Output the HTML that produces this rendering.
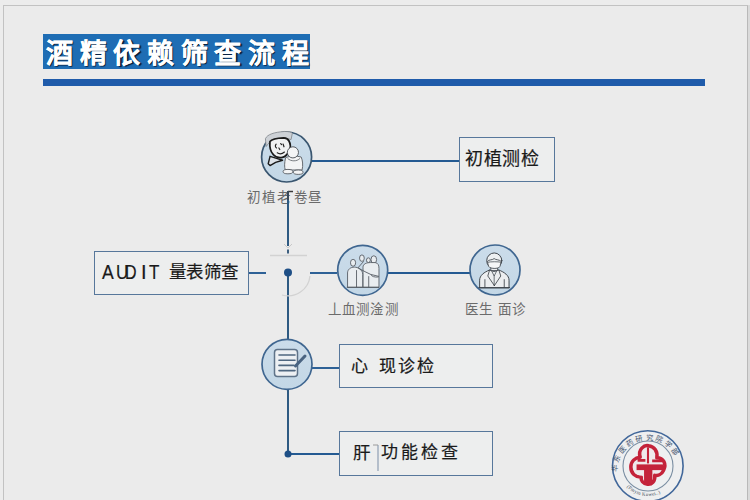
<!DOCTYPE html>
<html lang="zh-CN">
<head>
<meta charset="utf-8">
<style>
html,body{margin:0;padding:0;}
body{width:750px;height:500px;overflow:hidden;background:#ececec;position:relative;font-family:"Liberation Sans",sans-serif;}
.abs{position:absolute;}
#frame{left:3px;top:5px;width:743px;height:495px;border-left:1px solid #c2c2c2;border-top:1px solid #c2c2c2;border-right:2px solid #b9b9b9;background:#ebebeb;}
#edge{left:748px;top:5px;width:2px;height:495px;background:#dadada;}
#tbox{left:43px;top:34px;width:267px;height:35px;background:#1e6db4;}
#ttext{left:46px;top:34px;font-size:27px;line-height:40px;font-weight:bold;color:#fff;-webkit-text-stroke:0.2px #fff;letter-spacing:6.7px;white-space:nowrap;text-shadow:1.2px 1.2px 0.8px rgba(5,20,45,.9);}
#tbar{left:43px;top:78.5px;width:661.5px;height:7.6px;background:#1f5baa;}
.box{position:absolute;border:1.7px solid #57779b;background:#edeeee;box-sizing:border-box;}
.bt{position:absolute;color:#1a1a1a;white-space:nowrap;line-height:20px;font-weight:500;-webkit-text-stroke:0.2px #1a1a1a;}
.ch{position:absolute;white-space:nowrap;line-height:20px;}
.lbl{position:absolute;color:#6b6b6b;white-space:nowrap;font-size:13.5px;line-height:16px;}
svg{position:absolute;left:0;top:0;}
</style>
</head>
<body>
<div id="frame" class="abs"></div>
<div id="edge" class="abs"></div>
<div id="tbox" class="abs"></div>
<div id="ttext" class="abs">酒精依赖筛查流程</div>
<div id="tbar" class="abs"></div>

<!-- boxes -->
<div class="box" style="left:459px;top:137px;width:96px;height:45px;"></div>
<div class="bt" style="left:465px;top:149px;font-size:18px;letter-spacing:0.6px;">初植测检</div>

<div class="box" style="left:94px;top:250.5px;width:155px;height:44.5px;"></div>
<div class="bt" style="left:0;top:262px;font-size:20px;color:#1a1a1a;">
  <span class="ch" style="left:102px;transform:scaleX(0.88);transform-origin:0 0;">A</span>
  <span class="ch" style="left:115.5px;transform:scaleX(0.85);transform-origin:0 0;">U</span>
  <span class="ch" style="left:125px;transform:scaleX(0.8);transform-origin:0 0;">D</span>
  <span class="ch" style="left:141px;">I</span>
  <span class="ch" style="left:149px;transform:scaleX(0.85);transform-origin:0 0;">T</span>
</div>
<div class="bt" style="left:168.5px;top:262px;font-size:17.5px;letter-spacing:0.6px;">量表筛查</div>

<div class="box" style="left:339px;top:344px;width:154px;height:44px;"></div>
<div class="bt" style="left:351px;top:357px;font-size:17px;">心</div>
<div class="bt" style="left:378.5px;top:357px;font-size:17px;letter-spacing:2px;">现诊检</div>

<div class="box" style="left:339px;top:431px;width:154px;height:45px;"></div>
<div class="bt" style="left:352.5px;top:443px;font-size:17.5px;">肝</div>
<div class="bt" style="left:380.5px;top:443px;font-size:17px;letter-spacing:3px;">功能检查</div>

<!-- labels -->
<div class="lbl" style="left:246.8px;top:190px;letter-spacing:2.2px;">初植老</div>
<div class="lbl" style="left:294.3px;top:190px;letter-spacing:1px;">卷昼</div>
<div class="lbl" style="left:327.8px;top:302px;letter-spacing:1.2px;">丄血测淦测</div>
<div class="lbl" style="left:465px;top:301.5px;letter-spacing:1.1px;">医生 面诊</div>

<svg width="750" height="500" viewBox="0 0 750 500">
  <g stroke="#2e5a82" stroke-width="2" fill="none">
    <line x1="288" y1="192" x2="288" y2="246"/>
    <line x1="288" y1="249.5" x2="288" y2="253.5" stroke="#3d5f80"/>
    <line x1="288" y1="273" x2="288" y2="339"/>
    <line x1="288" y1="389" x2="288" y2="454"/>
  </g>
  <g stroke="#245a92" stroke-width="1.9" fill="none">
    <line x1="312" y1="161" x2="459" y2="161"/>
    <line x1="288" y1="454" x2="339" y2="454"/>
    <line x1="249" y1="273" x2="266" y2="273"/>
    <line x1="310" y1="273" x2="337" y2="273"/>
    <line x1="388" y1="273" x2="470" y2="273"/>
    <line x1="312" y1="368" x2="339" y2="368"/>
  </g>
  <path d="M288 191.5 H293" stroke="#3a3a3a" stroke-width="1.5"/>
  <path d="M288 191 V200" stroke="#3a4a5a" stroke-width="2"/>
  <circle cx="288" cy="272.5" r="4" fill="#1e4f86"/>
  <circle cx="288" cy="454" r="3.5" fill="#1e4f86"/>
  <line x1="270" y1="255.5" x2="307" y2="255.5" stroke="#d2d2d2" stroke-width="1.3"/>
  <path d="M284 244 L288 248 L292 244" fill="none" stroke="#c8c8c8" stroke-width="1"/>
  <path d="M310 276 A22 22 0 0 1 282 295" stroke="#d2d2d2" stroke-width="1.3" fill="none"/>
  <!-- cursor in 肝 box -->
  <line x1="378" y1="445" x2="378" y2="471" stroke="#7d8fa8" stroke-width="1"/>
  <line x1="373" y1="445" x2="378" y2="445" stroke="#9a9a9a" stroke-width="1"/>

  <defs><linearGradient id="cg" x1="0" y1="0" x2="0" y2="1"><stop offset="0" stop-color="#cbdcea"/><stop offset="1" stop-color="#c3d7e6"/></linearGradient></defs>
  <g fill="url(#cg)" stroke="#3f6690" stroke-width="1.7">
    <circle cx="286.6" cy="157" r="25" stroke="#3a5670"/>
    <circle cx="362.7" cy="270.3" r="25"/>
    <circle cx="495" cy="270" r="25"/>
    <circle cx="287" cy="364.3" r="25"/>
  </g>

  <!-- icon 1: elder + child (local coords: zoom 500 => 58px) -->
  <g transform="translate(258,128) scale(0.116)">
    <path d="M64 92 C80 55 140 36 228 30 C262 29 290 36 296 46 L285 100 C240 80 160 84 104 117 L70 160 Z" fill="#cdd1d6" stroke="#7f848a" stroke-width="7"/>
    <path d="M103 117 C120 95 170 88 221 86 C245 88 258 95 266 110 C280 135 284 160 272 190 C257 225 236 248 210 253 C185 258 150 250 131 228 C110 205 98 170 103 117 Z" fill="#f0f1f2" stroke="#1a1a1a" stroke-width="15"/>
    <path d="M156 140 C146 150 148 166 160 172 M196 134 L203 143 M216 138 L224 162 M180 172 L188 186 M166 214 Q196 234 228 207" fill="none" stroke="#222" stroke-width="10" stroke-linecap="round"/>
    <path d="M104 244 L88 308 L104 324 L152 297 L212 278 L160 262 Z" fill="#dde2e8" stroke="#1a1a1a" stroke-width="12" stroke-linejoin="round"/>
    <path d="M238 255 C228 300 226 340 236 362 L380 362 C390 320 385 280 372 250 C340 240 270 240 238 255 Z" fill="#f3f4f5" stroke="#5c6066" stroke-width="8"/>
    <path d="M255 262 C285 290 335 290 362 262" fill="none" stroke="#5c6066" stroke-width="7"/>
    <ellipse cx="258" cy="376" rx="42" ry="19" fill="#f3f4f5" stroke="#5c6066" stroke-width="8"/>
    <ellipse cx="347" cy="381" rx="42" ry="19" fill="#f3f4f5" stroke="#5c6066" stroke-width="8"/>
    <circle cx="301" cy="210" r="48" fill="#f4f5f6" stroke="#4d5157" stroke-width="8"/>
  </g>

  <!-- icon 2: group of people (zoom 500 => 54px) -->
  <g transform="translate(336,244) scale(0.108)" fill="#e9edf0" stroke="#525860" stroke-width="8" stroke-linejoin="round">
    <ellipse cx="300" cy="150" rx="18" ry="22"/>
    <ellipse cx="350" cy="144" rx="26" ry="35"/>
    <path d="M250 400 V215 C250 185 280 172 320 172 L362 172 C388 175 398 195 398 225 V400 Z"/>
    <ellipse cx="240" cy="131" rx="22" ry="30"/>
    <ellipse cx="158" cy="174" rx="24" ry="32"/>
    <path d="M107 400 V268 C107 236 135 214 170 214 C205 214 247 240 247 280 V400 Z"/>
    <path d="M190 242 V400 M303 298 V400" fill="none"/>
    <path d="M203 221 L257 160 M205 222 L268 256 L322 282 L398 300" fill="none"/>
    <path d="M322 282 C330 300 355 310 395 305" fill="none"/>
    <path d="M100 402 H400" fill="none"/>
  </g>

  <!-- icon 3: doctor (zoom 500 => 60px) -->
  <g transform="translate(465,240) scale(0.12)" stroke="#3b4148" stroke-width="8" stroke-linejoin="round" stroke-linecap="round">
    <path d="M122 396 V335 C122 295 160 268 205 250 L243 262 L282 250 C327 268 367 295 367 335 V396 Z" fill="#eceef0"/>
    <path d="M205 250 L190 300 L245 380 M282 250 L298 300 L245 380" fill="none" stroke-width="7"/>
    <path d="M222 258 L243 300 L264 258 M243 300 V380" fill="none" stroke-width="6"/>
    <path d="M166 330 V396 M327 330 V396" fill="none" stroke-width="7"/>
    <path d="M115 397 H372" fill="none"/>
    <path d="M215 225 V255 H272 V225" fill="#eceef0" stroke-width="7"/>
    <ellipse cx="244" cy="172" rx="63" ry="64" fill="#edf0f2"/>
    <path d="M186 178 C200 160 225 170 243 155 C258 168 280 160 302 178" fill="none" stroke-width="7"/>
    <path d="M192 185 C215 180 275 180 298 185 L292 222 C270 242 220 242 198 222 Z" fill="#f5f6f7" stroke-width="6"/>
  </g>

  <!-- icon 4: document + pen -->
  <g stroke="#4a6482" fill="none" stroke-linecap="round">
    <rect x="274.5" y="349.5" width="23" height="27" rx="3" fill="#edf0f3" stroke="#5f7389" stroke-width="1.5"/>
    <path d="M279 355 H295 M279 360.2 H295 M279 365.4 H294 M279 370.6 H295" stroke="#4f6780" stroke-width="1.6"/>
    <path d="M295.5 366 L305 356" stroke-width="3"/>
  </g>
  <!-- logo -->
  <g>
    <circle cx="647.8" cy="466" r="35.3" fill="#eeeff0" stroke="#41679a" stroke-width="1.6"/>
    <circle cx="648" cy="466" r="25" fill="#eef0f1" stroke="#7a8ea2" stroke-width="1.1"/>
    <defs>
      <path id="arcTop" d="M618 476 A30.5 30.5 0 1 1 678 476"/>
      <path id="arcBot" d="M624 484 A30 30 0 0 0 672 484"/>
    </defs>
    <text font-size="7.2" fill="#3a4e68" letter-spacing="2.4"><textPath href="#arcTop" startOffset="4">华东医药研究院学部</textPath></text>
    <text font-size="5" fill="#3b4650" font-family="Liberation Serif" letter-spacing="0.2"><textPath href="#arcBot" startOffset="4">(Pinyin Kuwei..)</textPath></text>
    <g transform="translate(622,440) scale(0.104)">
      <path d="M175 165 C150 90 215 45 255 55 C310 60 345 110 335 170 C400 170 430 230 400 290 C380 335 340 345 315 340 C320 400 285 430 245 425 C200 420 180 390 185 355 C130 360 85 320 85 260 C85 205 125 170 175 165 Z" fill="#efe9eb" stroke="#c4233a" stroke-width="34" stroke-linejoin="round"/>
      <path d="M140 262 H395" stroke="#c4233a" stroke-width="55"/>
      <path d="M252 250 V425" stroke="#c4233a" stroke-width="80"/>
      <path d="M250 70 V225" stroke="#c4233a" stroke-width="20"/>
      <path d="M150 195 H225 M290 200 H385" stroke="#c4233a" stroke-width="26"/>
      <path d="M120 300 C140 330 170 340 200 335" fill="none" stroke="#efe9eb" stroke-width="12"/>
    </g>
  </g>
</svg>
</body>
</html>
